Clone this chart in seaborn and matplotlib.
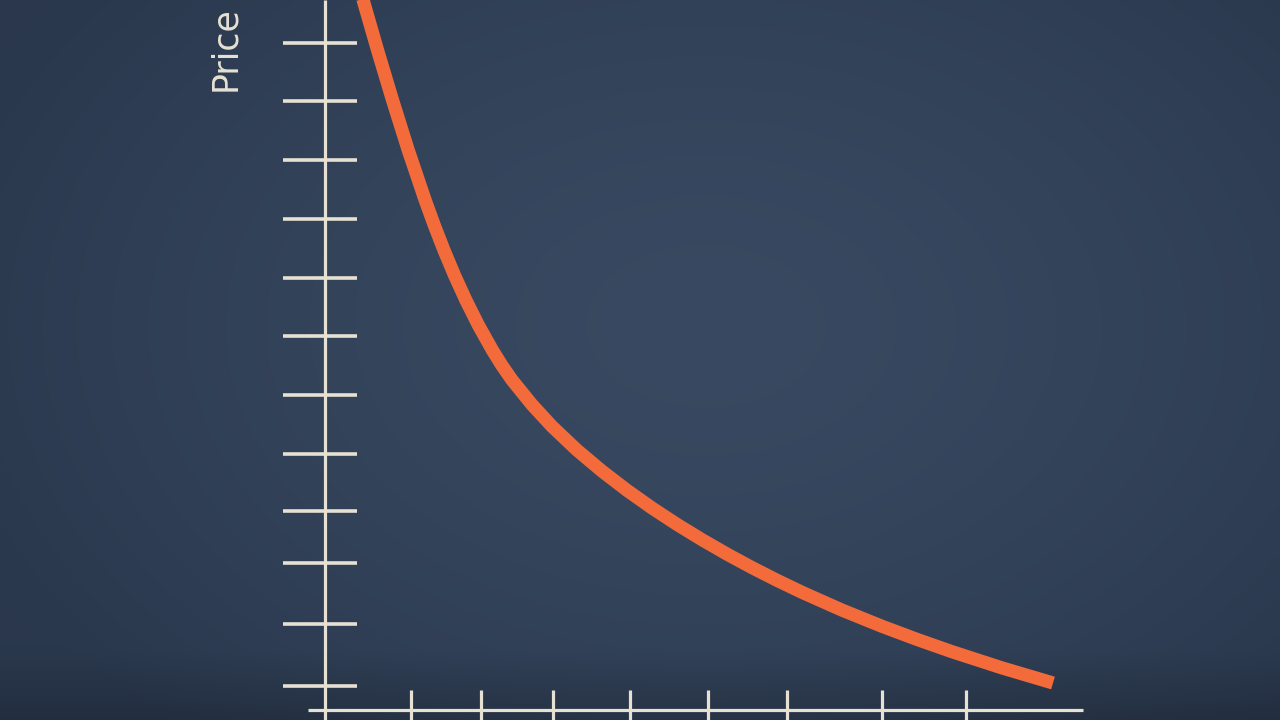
import numpy as np
import pandas as pd
import matplotlib
matplotlib.use("Agg")
import matplotlib.pyplot as plt
import seaborn as sns

# ---- data ----
quantity = [3.47, 3.81, 5.25, 6.75, 8.32, 10.01, 10.92, 11.89, 12.94, 14.08,
            15.33, 16.73, 17.66, 18.7, 20.7, 22.7, 25.2, 27.7, 30.2, 32.7,
            35.2, 37.7, 40.2, 42.7, 45.2, 47.7, 51.7, 55.7, 59.2, 62.7,
            67.7, 72.8]
price = [72.2, 71.0, 66.0, 61.0, 56.0, 51.0, 48.5, 46.0, 43.5, 41.0,
         38.5, 36.0, 34.5, 33.0, 30.53, 28.36, 25.99, 23.89, 21.97, 20.2,
         18.56, 17.03, 15.59, 14.24, 12.97, 11.77, 9.99, 8.37, 7.06, 5.83,
         4.21, 2.7]
x_ticks = [8.6, 15.6, 22.8, 30.5, 38.3, 46.2, 55.7, 64.1]
y_ticks = [66.7, 60.9, 55.0, 49.1, 43.2, 37.4, 31.5, 25.6, 19.9, 14.7, 8.6, 2.4]
y_label = "Price"

df = pd.DataFrame({"Quantity": quantity, "Price": price})

sns.set_theme(style="white")
plt.rcParams["font.family"] = ["DejaVu Sans"]

fig = plt.figure(figsize=(12.8, 7.2), dpi=100)
ax = fig.add_axes([0, 0, 1, 1])
XMIN, XMAX = -32.5, 95.5
YMIN, YMAX = -1.0, 71.0

# background with soft vignette
h, w = 180, 320
yy, xx = np.mgrid[0:h, 0:w]
cx, cy = w * 0.55, h * 0.45
r = np.sqrt(((xx - cx) / (w * 0.62)) ** 2 + ((yy - cy) / (h * 0.75)) ** 2)
center = np.array([0x38, 0x49, 0x61]) / 255.0
edge = np.array([0x2a, 0x38, 0x4d]) / 255.0
t = np.clip(r, 0, 1)[..., None] ** 1.5
img = center * (1 - t) + edge * t
# darker band at the bottom
bot = np.clip((yy - h * 0.90) / (h * 0.10), 0, 1)[..., None]
img = img * (1 - 0.18 * bot)
ax.imshow(img, extent=[XMIN, XMAX, YMIN, YMAX], aspect="auto", zorder=0,
          interpolation="bicubic")

axis_col = "#e6e1d3"
# axes lines
ax.plot([0, 0], [YMIN, YMAX], color=axis_col, lw=2.3, solid_capstyle="butt", zorder=2)
ax.plot([-1.7, 75.8], [0, 0], color=axis_col, lw=2.3, solid_capstyle="butt", zorder=2)
# tick marks
ax.hlines(y_ticks, -4.2, 3.2, color=axis_col, lw=2.6, zorder=2)
ax.vlines(x_ticks, -1.0, 2.0, color=axis_col, lw=2.3, zorder=2)

# demand curve
sns.lineplot(data=df, x="Quantity", y="Price", ax=ax, color="#f46b3b",
             lw=9.5, sort=False, estimator=None, zorder=3)
curve = ax.lines[-1]
curve.set_solid_capstyle("butt")
curve.set_solid_joinstyle("round")

ax.text(-10.0, 66.1, y_label, rotation=90, ha="center", va="center",
        fontsize=25, color=axis_col, zorder=4)

ax.set_xlim(XMIN, XMAX)
ax.set_ylim(YMIN, YMAX)
ax.set_xlabel("")
ax.set_ylabel("")
ax.set_xticks([])
ax.set_yticks([])
for s in ax.spines.values():
    s.set_visible(False)

fig.savefig("out.png", dpi=100)
